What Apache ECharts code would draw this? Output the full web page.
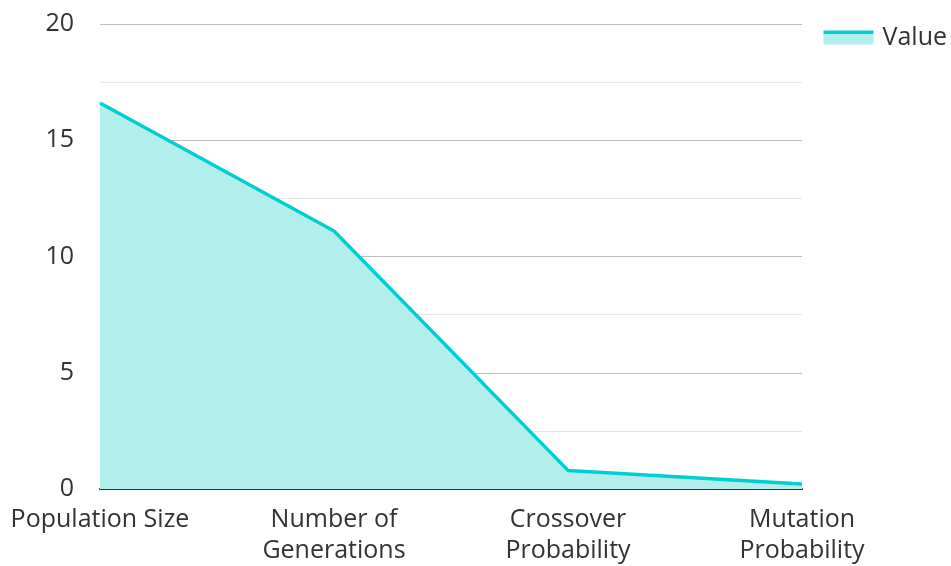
<!DOCTYPE html>
<html>
<head>
<meta charset="utf-8">
<script src="https://cdn.jsdelivr.net/npm/echarts@6/dist/echarts.min.js"></script>
<style>
  html, body { margin: 0; padding: 0; background: #fff; }
  #chart { width: 951px; height: 566px; }
</style>
</head>
<body>
<div id="chart"></div>
<script>
// Parameter categories and their values
const categories = ['Population Size', 'Number of\nGenerations', 'Crossover\nProbability', 'Mutation\nProbability'];
const values = [16.6, 11.1, 0.8, 0.22];
const seriesName = 'Value';

const lineColor = '#00CED1';
const areaColor = '#B2EFEC';
const fontFamily = '"Open Sans", "Noto Sans", sans-serif';

const chart = echarts.init(document.getElementById('chart'), null, { renderer: 'canvas' });

chart.setOption({
  animation: false,
  backgroundColor: '#ffffff',
  textStyle: { fontFamily: fontFamily },
  grid: { left: 100, right: 149, top: 24, bottom: 75.5, containLabel: false },
  legend: {
    right: -1,
    top: 20,
    itemWidth: 50,
    itemHeight: 14,
    itemGap: 10,
    icon: 'rect',
    data: [{
      name: seriesName,
      itemStyle: {
        color: {
          type: 'linear', x: 0, y: 0, x2: 0, y2: 1,
          colorStops: [
            { offset: 0, color: lineColor },
            { offset: 0.26, color: lineColor },
            { offset: 0.26, color: areaColor },
            { offset: 1, color: areaColor }
          ]
        }
      }
    }],
    textStyle: { fontSize: 25, color: '#333', fontFamily: fontFamily, padding: [0, 0, 0, 4] }
  },
  xAxis: {
    type: 'category',
    data: categories,
    boundaryGap: false,
    axisLine: { show: true, lineStyle: { color: '#333', width: 2 } },
    axisTick: { show: false },
    axisLabel: {
      fontSize: 25,
      color: '#333',
      lineHeight: 31,
      margin: 15,
      interval: 0,
      fontFamily: fontFamily
    },
    splitLine: { show: false }
  },
  yAxis: {
    type: 'value',
    min: 0,
    max: 20,
    interval: 5,
    axisLine: { show: false },
    axisTick: { show: false },
    axisLabel: { fontSize: 25, color: '#333', margin: 26, fontFamily: fontFamily },
    splitLine: { show: true, lineStyle: { color: '#bdbdbd', width: 1 } },
    minorTick: { show: false, splitNumber: 2 },
    minorSplitLine: { show: true, lineStyle: { color: '#e6e6e6', width: 1 } }
  },
  series: [{
    name: seriesName,
    type: 'line',
    data: values,
    showSymbol: false,
    symbol: 'none',
    lineStyle: { color: lineColor, width: 3.5 },
    itemStyle: { color: lineColor },
    areaStyle: { color: areaColor, opacity: 1 }
  }]
});
</script>
</body>
</html>
